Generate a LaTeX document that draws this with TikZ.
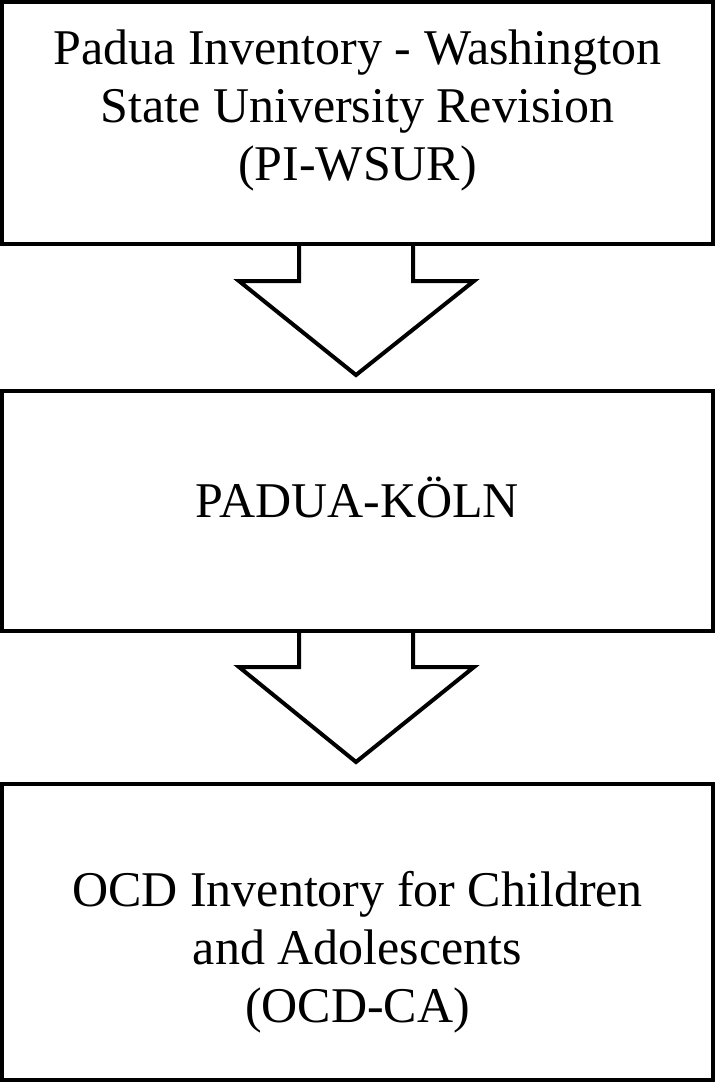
\documentclass[tikz,border=0pt]{standalone}
\usepackage{fontspec}
\setmainfont{Liberation Serif}
\begin{document}
\begin{tikzpicture}[x=1pt,y=-1pt,
  box/.style={draw,line width=4pt,line join=miter},
  txt/.style={align=center,font=\fontsize{50}{58}\selectfont,inner sep=0pt}]
\useasboundingbox (0,0) rectangle (715,1082);
\draw[box] (2,2) rectangle (713,244);
\draw[box] (2,391) rectangle (713,631);
\draw[box] (2,784) rectangle (713,1080);
\node[txt] (t1) at (357.5,110) {Padua Inventory - Washington\\State University Revision\\(PI-WSUR)};
\node[txt] (t2) at (357.5,497) {PADUA-KÖLN};
\node[txt] (t3) at (357.5,952) {OCD Inventory for Children\\and Adolescents\\(OCD-CA)};
\draw[box] (299,244) -- (299,281) -- (239,281) -- (356,375) -- (474,281) -- (413,281) -- (413,244);
\draw[box] (299,631) -- (299,667) -- (239,667) -- (356,762) -- (474,667) -- (413,667) -- (413,631);
\end{tikzpicture}
\end{document}
